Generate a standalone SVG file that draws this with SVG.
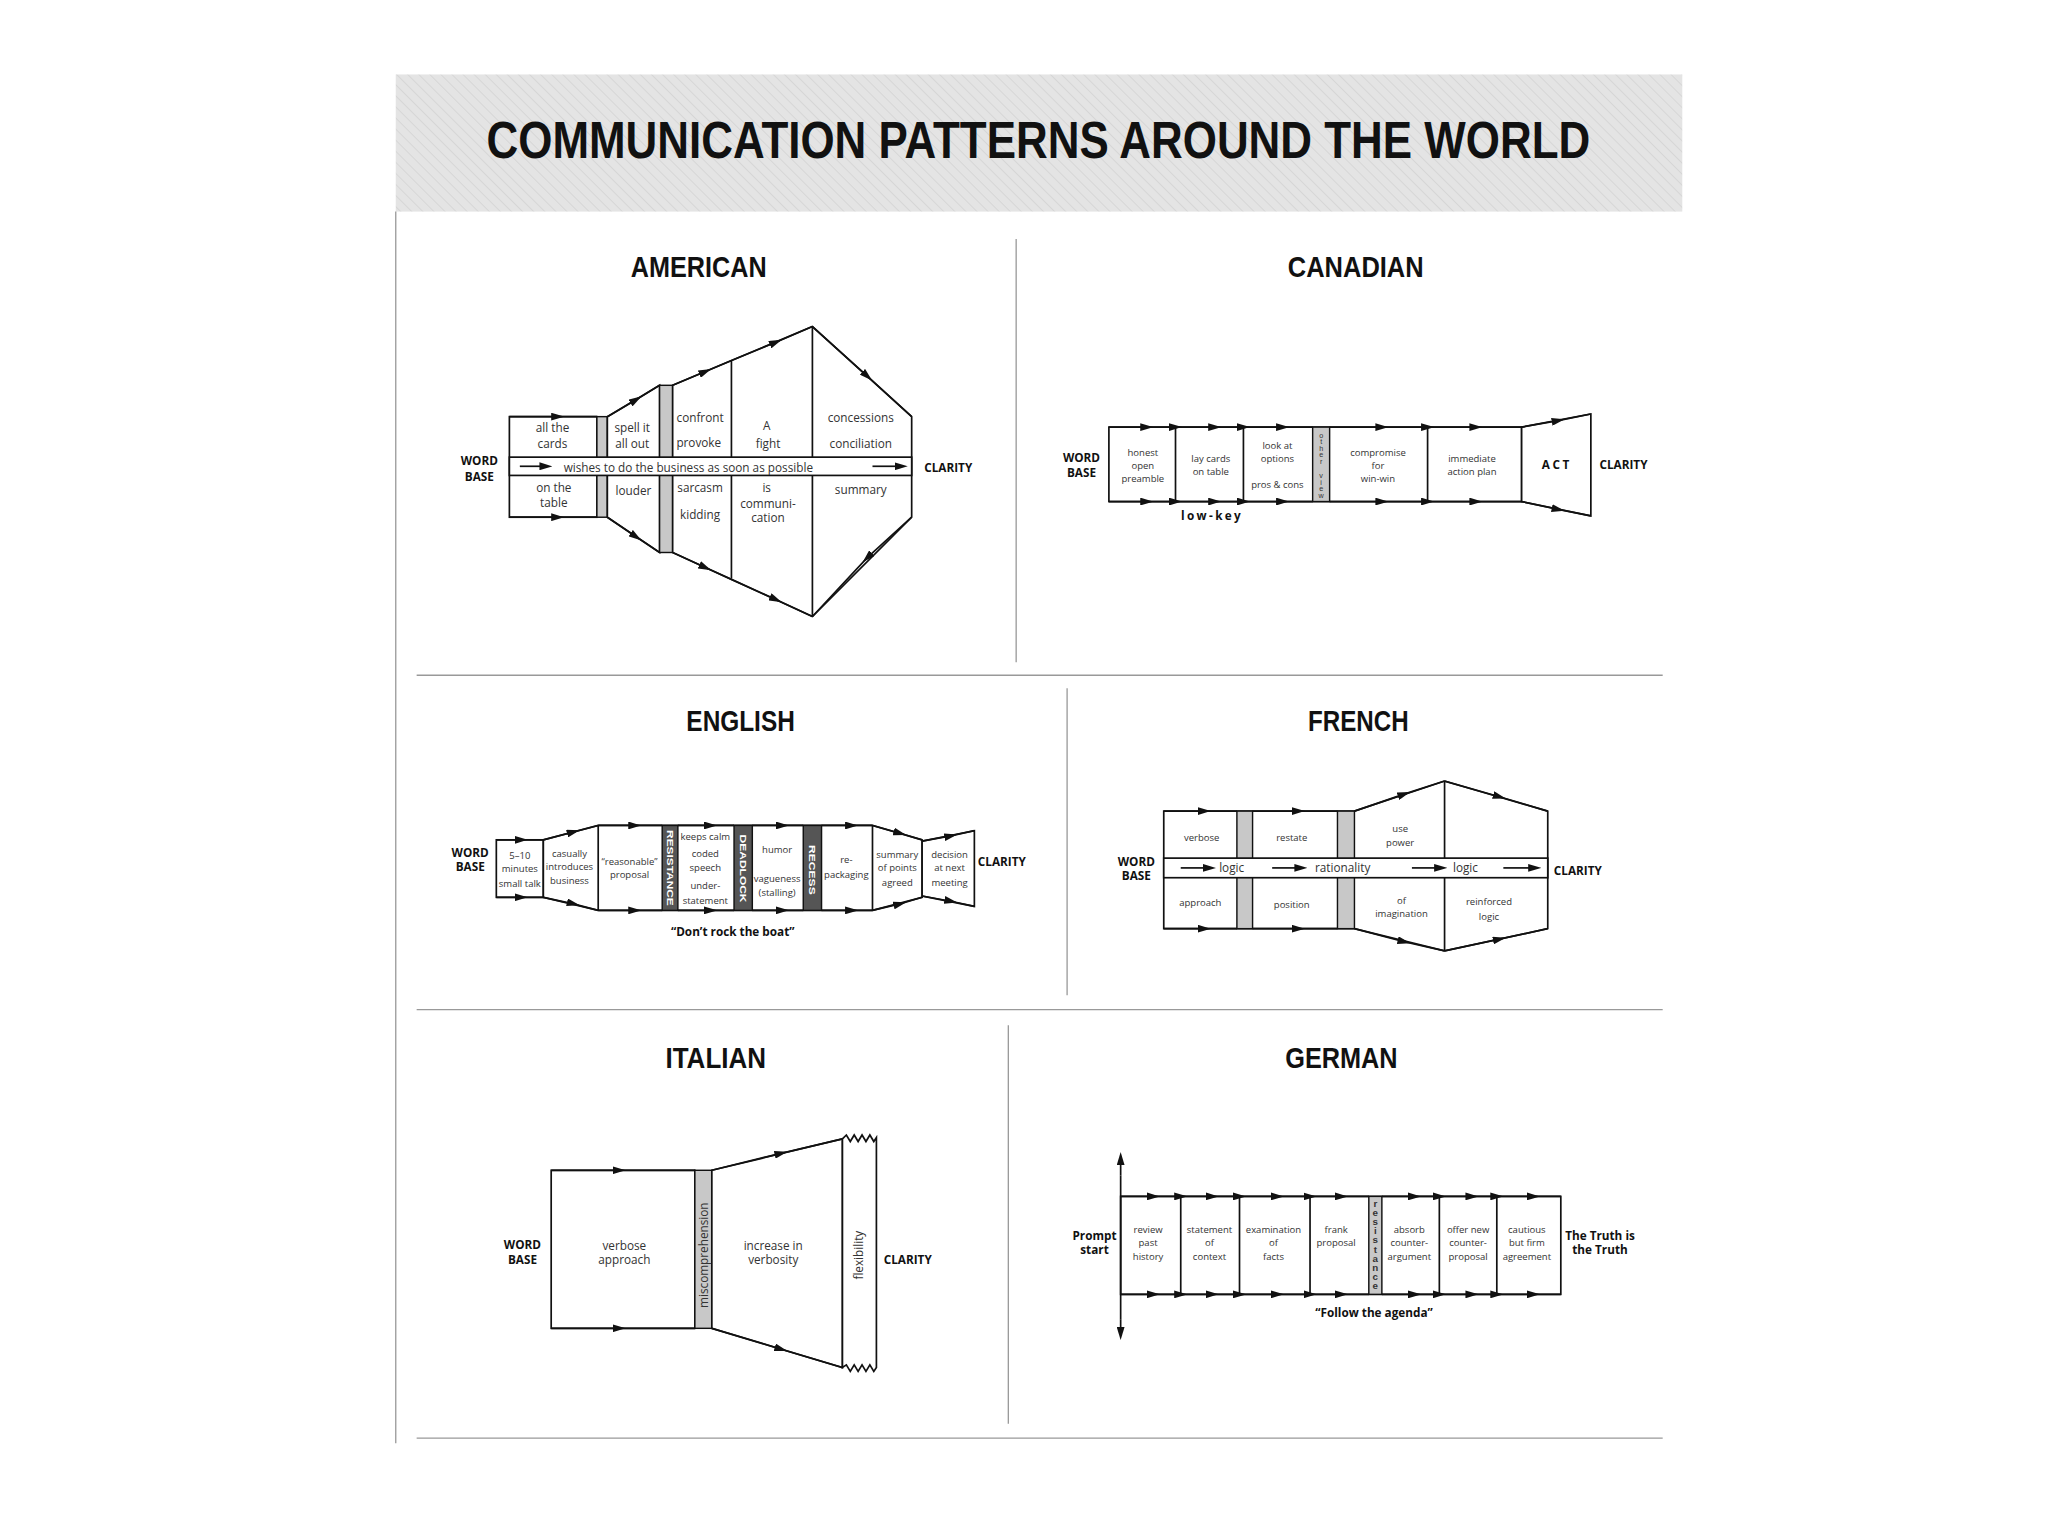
<svg xmlns="http://www.w3.org/2000/svg" width="2048" height="1536" viewBox="0 0 2048 1536">
<defs>
<marker id="ah" markerUnits="userSpaceOnUse" markerWidth="10" markerHeight="6" refX="5" refY="3" orient="auto"><path d="M0,0 L10,3 L0,6 z" fill="#111"/></marker>
<pattern id="hatch" width="6" height="6" patternUnits="userSpaceOnUse" patternTransform="rotate(-45)"><rect width="6" height="6" fill="#e4e4e4"/><line x1="0" y1="0" x2="0" y2="6" stroke="#d6d6d6" stroke-width="1.5"/></pattern>
<style>
.ln{stroke:#111;stroke-width:1.3;fill:none}
.bx{stroke:#111;stroke-width:1.3;fill:#fff}
.ar{stroke:#111;stroke-width:1.3;fill:none;marker-mid:url(#ah)}
.gr{fill:#c8c8c8;stroke:#111;stroke-width:1.1}
.dk{fill:#555;stroke:#111;stroke-width:1.1}
.div{stroke:#999;stroke-width:1}
.t{font-family:"Open Sans","Liberation Sans",sans-serif;font-size:9px;fill:#333;text-anchor:middle}
.s{font-family:"Open Sans","Liberation Sans",sans-serif;font-size:7.3px;fill:#333;text-anchor:middle}
.b{font-family:"Open Sans","Liberation Sans",sans-serif;font-size:9px;font-weight:bold;fill:#111;text-anchor:middle}
.h{font-family:"Liberation Sans Narrow","Liberation Sans",sans-serif;font-size:23px;font-weight:bold;fill:#111;text-anchor:middle}
.vt{font-family:"Liberation Sans",sans-serif;font-size:6.5px;font-weight:bold;fill:#fff;text-anchor:middle}
.st{font-family:"Liberation Sans",sans-serif;fill:#333;text-anchor:middle}
</style>
</defs>
<rect width="2048" height="1536" fill="#fff"/>
<g transform="scale(1.30612)">
<g id="title">
<rect x="303" y="57" width="985" height="105" fill="url(#hatch)"/>
<text x="795" y="121" font-family="Liberation Sans Narrow,Liberation Sans,sans-serif" font-size="40" font-weight="bold" fill="#111" text-anchor="middle" textLength="845" lengthAdjust="spacingAndGlyphs">COMMUNICATION PATTERNS AROUND THE WORLD</text>
</g>
<g id="dividers">
<line class="div" x1="303" y1="162" x2="303" y2="1105"/>
<line class="div" x1="778" y1="183" x2="778" y2="507"/>
<line class="div" x1="319" y1="517" x2="1273" y2="517"/>
<line class="div" x1="817" y1="527" x2="817" y2="762"/>
<line class="div" x1="319" y1="773" x2="1273" y2="773"/>
<line class="div" x1="772" y1="785" x2="772" y2="1090"/>
<line class="div" x1="319" y1="1101" x2="1273" y2="1101"/>
</g>

<!-- AMERICAN -->
<g id="american">
<text class="h" x="535" y="212" textLength="104" lengthAdjust="spacingAndGlyphs">AMERICAN</text>
<rect class="bx" x="390" y="319" width="67" height="77"/>
<rect class="gr" x="457" y="319" width="8" height="77"/>
<path class="bx" d="M465,319 L505,295 L505,423 L465,396 z"/>
<rect class="gr" x="505" y="295" width="10" height="128"/>
<path class="bx" d="M515,295 L622,250 L698,319 L698,396 L622,472 L515,423 z"/>
<line class="ln" x1="560" y1="276" x2="560" y2="443"/>
<line class="ln" x1="622" y1="250" x2="622" y2="472"/>
<rect x="390" y="350" width="308" height="14" fill="#fff" stroke="#111" stroke-width="1.3"/>
<line class="ln" x1="398" y1="357" x2="418" y2="357" marker-end="url(#ah)"/>
<line class="ln" x1="668" y1="357" x2="690" y2="357" marker-end="url(#ah)"/>
<text class="t" x="527" y="361" font-size="9.5">wishes to do the business as soon as possible</text>
<text class="b" x="367" y="356">WORD</text><text class="b" x="367" y="368">BASE</text>
<text class="b" x="726" y="361">CLARITY</text>
<text class="t" x="423" y="331">all the</text><text class="t" x="423" y="343">cards</text>
<text class="t" x="424" y="377">on the</text><text class="t" x="424" y="388">table</text>
<text class="t" x="484" y="331">spell it</text><text class="t" x="484" y="343">all out</text>
<text class="t" x="485" y="379">louder</text>
<text class="t" x="536" y="323">confront</text><text class="t" x="535" y="342">provoke</text>
<text class="t" x="536" y="377">sarcasm</text><text class="t" x="536" y="397">kidding</text>
<text class="t" x="587" y="329">A</text><text class="t" x="588" y="343">fight</text>
<text class="t" x="587" y="377">is</text><text class="t" x="588" y="389">communi-</text><text class="t" x="588" y="400">cation</text>
<text class="t" x="659" y="323">concessions</text><text class="t" x="659" y="343">conciliation</text>
<text class="t" x="659" y="378">summary</text>
</g>

<!-- CANADIAN -->
<g id="canadian">
<text class="h" x="1038" y="212" textLength="104" lengthAdjust="spacingAndGlyphs">CANADIAN</text>
<rect class="bx" x="849" y="327" width="316" height="57"/>
<line class="ln" x1="900" y1="327" x2="900" y2="384"/>
<line class="ln" x1="952" y1="327" x2="952" y2="384"/>
<rect class="gr" x="1005" y="327" width="13" height="57"/>
<line class="ln" x1="1093" y1="327" x2="1093" y2="384"/>
<path class="bx" d="M1165,327 L1218,317 L1218,395 L1165,384 z"/>
<text class="b" x="828" y="354">WORD</text><text class="b" x="828" y="365">BASE</text>
<text class="b" x="1243" y="359">CLARITY</text>
<text class="b" x="1192" y="359" letter-spacing="2">ACT</text>
<text class="s" x="875" y="349">honest</text><text class="s" x="875" y="359">open</text><text class="s" x="875" y="369">preamble</text>
<text class="s" x="927" y="354">lay cards</text><text class="s" x="927" y="364">on table</text>
<text class="s" x="978" y="344">look at</text><text class="s" x="978" y="354">options</text><text class="s" x="978" y="374">pros &amp; cons</text>
<text class="st" font-size="5.5"><tspan x="1011.5" y="335">o</tspan><tspan x="1011.5" y="340">t</tspan><tspan x="1011.5" y="345">h</tspan><tspan x="1011.5" y="350">e</tspan><tspan x="1011.5" y="355">r</tspan><tspan x="1011.5" y="366">v</tspan><tspan x="1011.5" y="371">i</tspan><tspan x="1011.5" y="376">e</tspan><tspan x="1011.5" y="381">w</tspan></text>
<text class="s" x="1055" y="349">compromise</text><text class="s" x="1055" y="359">for</text><text class="s" x="1055" y="369">win-win</text>
<text class="s" x="1127" y="354">immediate</text><text class="s" x="1127" y="364">action plan</text>
<text class="b" x="928" y="398" font-size="8" letter-spacing="1.8">low-key</text>
</g>

<!-- ENGLISH -->
<g id="english">
<text class="h" x="567" y="560" textLength="83" lengthAdjust="spacingAndGlyphs">ENGLISH</text>
<rect class="bx" x="380" y="643" width="36" height="44"/>
<path class="bx" d="M416,643 L458,632 L668,632 L706,643 L706,687 L668,697 L458,697 L416,687 z"/>
<line class="ln" x1="458" y1="632" x2="458" y2="697"/>
<line class="ln" x1="668" y1="632" x2="668" y2="697"/>
<path class="bx" d="M706,644 L746,636 L746,694 L706,686 z"/>
<rect class="dk" x="507" y="632" width="12" height="65"/>
<rect class="dk" x="562" y="632" width="14" height="65"/>
<rect class="dk" x="615" y="632" width="14" height="65"/>
<text class="vt" transform="translate(510.5,664.5) rotate(90)" textLength="58" lengthAdjust="spacingAndGlyphs">RESISTANCE</text>
<text class="vt" transform="translate(566.5,665) rotate(90)" textLength="52" lengthAdjust="spacingAndGlyphs">DEADLOCK</text>
<text class="vt" transform="translate(619.5,666) rotate(90)" textLength="38" lengthAdjust="spacingAndGlyphs">RECESS</text>
<text class="b" x="360" y="656">WORD</text><text class="b" x="360" y="667">BASE</text>
<text class="b" x="767" y="663">CLARITY</text>
<text class="s" x="398" y="658">5–10</text><text class="s" x="398" y="668">minutes</text><text class="s" x="398" y="679">small talk</text>
<text class="s" x="436" y="656">casually</text><text class="s" x="436" y="666">introduces</text><text class="s" x="436" y="677">business</text>
<text class="s" x="482" y="662">“reasonable”</text><text class="s" x="482" y="672">proposal</text>
<text class="s" x="540" y="643">keeps calm</text><text class="s" x="540" y="656">coded</text><text class="s" x="540" y="667">speech</text><text class="s" x="540" y="681">under-</text><text class="s" x="540" y="692">statement</text>
<text class="s" x="595" y="653">humor</text><text class="s" x="595" y="675">vagueness</text><text class="s" x="595" y="686">(stalling)</text>
<text class="s" x="648" y="661">re-</text><text class="s" x="648" y="672">packaging</text>
<text class="s" x="687" y="657">summary</text><text class="s" x="687" y="667">of points</text><text class="s" x="687" y="678">agreed</text>
<text class="s" x="727" y="657">decision</text><text class="s" x="727" y="667">at next</text><text class="s" x="727" y="678">meeting</text>
<text class="b" x="561" y="717">“Don’t rock the boat”</text>
</g>

<!-- FRENCH -->
<g id="french">
<text class="h" x="1040" y="560" textLength="77" lengthAdjust="spacingAndGlyphs">FRENCH</text>
<path class="bx" d="M891,621 L1037,621 L1106,598 L1185,621 L1185,711 L1106,728 L1037,711 L891,711 z"/>
<line class="ln" x1="1106" y1="598" x2="1106" y2="728"/>
<rect class="gr" x="947" y="621" width="12" height="90"/>
<rect class="gr" x="1024" y="621" width="13" height="90"/>
<rect x="891" y="657" width="294" height="15" fill="#fff" stroke="#111" stroke-width="1.3"/>
<line class="ln" x1="904" y1="664.5" x2="926" y2="664.5" marker-end="url(#ah)"/>
<line class="ln" x1="974" y1="664.5" x2="996" y2="664.5" marker-end="url(#ah)"/>
<line class="ln" x1="1081" y1="664.5" x2="1103" y2="664.5" marker-end="url(#ah)"/>
<line class="ln" x1="1151" y1="664.5" x2="1175" y2="664.5" marker-end="url(#ah)"/>
<text class="t" x="943" y="668">logic</text><text class="t" x="1028" y="668">rationality</text><text class="t" x="1122" y="668">logic</text>
<text class="b" x="870" y="663">WORD</text><text class="b" x="870" y="674">BASE</text>
<text class="b" x="1208" y="670">CLARITY</text>
<text class="s" x="920" y="644" font-size="8">verbose</text><text class="s" x="919" y="694" font-size="8">approach</text>
<text class="s" x="989" y="644" font-size="8">restate</text><text class="s" x="989" y="695" font-size="8">position</text>
<text class="s" x="1072" y="637" font-size="8">use</text><text class="s" x="1072" y="648" font-size="8">power</text>
<text class="s" x="1073" y="692" font-size="8">of</text><text class="s" x="1073" y="702" font-size="8">imagination</text>
<text class="s" x="1140" y="693" font-size="8">reinforced</text><text class="s" x="1140" y="704" font-size="8">logic</text>
</g>

<!-- ITALIAN -->
<g id="italian">
<text class="h" x="548" y="818" textLength="77" lengthAdjust="spacingAndGlyphs">ITALIAN</text>
<rect class="bx" x="422" y="896" width="110" height="121"/>
<rect class="gr" x="532" y="896" width="13" height="121"/>
<path class="bx" d="M545,896 L645,872 L645,1047 L545,1017 z"/>
<path class="bx" d="M645,872 L648,869 L651,874 L654,869 L657,874 L660,869 L663,874 L666,869 L669,874 L671,871 L671,1047 L669,1050 L666,1045 L663,1050 L660,1045 L657,1050 L654,1045 L651,1050 L648,1045 L645,1047 z"/>
<text class="t" transform="translate(542,961) rotate(-90)">miscomprehension</text>
<text class="t" transform="translate(661,961) rotate(-90)">flexibility</text>
<text class="b" x="400" y="956">WORD</text><text class="b" x="400" y="968">BASE</text>
<text class="b" x="695" y="968">CLARITY</text>
<text class="t" x="478" y="957">verbose</text><text class="t" x="478" y="968">approach</text>
<text class="t" x="592" y="957">increase in</text><text class="t" x="592" y="968">verbosity</text>
</g>

<!-- GERMAN -->
<g id="german">
<text class="h" x="1027" y="818" textLength="86" lengthAdjust="spacingAndGlyphs">GERMAN</text>
<rect class="bx" x="858" y="916" width="337" height="75"/>
<line class="ln" x1="904" y1="916" x2="904" y2="991"/>
<line class="ln" x1="949" y1="916" x2="949" y2="991"/>
<line class="ln" x1="1003" y1="916" x2="1003" y2="991"/>
<rect class="gr" x="1048" y="916" width="10" height="75"/>
<line class="ln" x1="1102" y1="916" x2="1102" y2="991"/>
<line class="ln" x1="1146" y1="916" x2="1146" y2="991"/>
<line class="ln" x1="858" y1="900" x2="858" y2="887" marker-end="url(#ah)"/>
<line class="ln" x1="858" y1="900" x2="858" y2="1010"/>
<line class="ln" x1="858" y1="1010" x2="858" y2="1021" marker-end="url(#ah)"/>
<text class="st" font-size="7.5" font-weight="bold"><tspan x="1053" y="924">r</tspan><tspan x="1053" y="931">e</tspan><tspan x="1053" y="938">s</tspan><tspan x="1053" y="945">i</tspan><tspan x="1053" y="952">s</tspan><tspan x="1053" y="959">t</tspan><tspan x="1053" y="966">a</tspan><tspan x="1053" y="973">n</tspan><tspan x="1053" y="980">c</tspan><tspan x="1053" y="987">e</tspan></text>
<text class="b" x="838" y="949">Prompt</text><text class="b" x="838" y="960">start</text>
<text class="b" x="1225" y="949">The Truth is</text><text class="b" x="1225" y="960">the Truth</text>
<text class="s" x="879" y="944">review</text><text class="s" x="879" y="954">past</text><text class="s" x="879" y="965">history</text>
<text class="s" x="926" y="944">statement</text><text class="s" x="926" y="954">of</text><text class="s" x="926" y="965">context</text>
<text class="s" x="975" y="944">examination</text><text class="s" x="975" y="954">of</text><text class="s" x="975" y="965">facts</text>
<text class="s" x="1023" y="944">frank</text><text class="s" x="1023" y="954">proposal</text>
<text class="s" x="1079" y="944">absorb</text><text class="s" x="1079" y="954">counter-</text><text class="s" x="1079" y="965">argument</text>
<text class="s" x="1124" y="944">offer new</text><text class="s" x="1124" y="954">counter-</text><text class="s" x="1124" y="965">proposal</text>
<text class="s" x="1169" y="944">cautious</text><text class="s" x="1169" y="954">but firm</text><text class="s" x="1169" y="965">agreement</text>
<text class="b" x="1052" y="1008">“Follow the agenda”</text>
</g>

<g id="connectors">
<path class="ar" d="M390,319 L427,319 L457,319"/>
<path class="ar" d="M390,396 L427,396 L457,396"/>
<path class="ar" d="M465,319 L487,306 L505,295"/>
<path class="ar" d="M465,396 L487,411 L505,423"/>
<path class="ar" d="M515,295 L540,284.5 L560,276"/>
<path class="ar" d="M515,423 L540,434.5 L560,443.6"/>
<path class="ar" d="M560,276 L594,262 L622,250"/>
<path class="ar" d="M560,443.6 L594,459 L622,472"/>
<path class="ar" d="M622,250 L664,288 L698,319"/>
<path class="ar" d="M698,396 L664,427 L622,472"/>
<path class="ar" d="M849,327 L878,327 L900,327 L930,327 L952,327 L982,327 L1005,327"/>
<path class="ar" d="M849,384 L878,384 L900,384 L930,384 L952,384 L982,384 L1005,384"/>
<path class="ar" d="M1018,327 L1058,327 L1093,327 L1130,327 L1165,327"/>
<path class="ar" d="M1018,384 L1058,384 L1093,384 L1130,384 L1165,384"/>
<path class="ar" d="M1165,327 L1193,322 L1218,317"/>
<path class="ar" d="M1165,384 L1193,390 L1218,395"/>
<path class="ar" d="M380,643 L399,643 L416,643"/>
<path class="ar" d="M380,687 L399,687 L416,687"/>
<path class="ar" d="M416,643 L439,637 L458,632"/>
<path class="ar" d="M416,687 L439,692 L458,697"/>
<path class="ar" d="M458,632 L486,632 L507,632"/>
<path class="ar" d="M458,697 L486,697 L507,697"/>
<path class="ar" d="M519,632 L544,632 L562,632"/>
<path class="ar" d="M519,697 L544,697 L562,697"/>
<path class="ar" d="M576,632 L599,632 L615,632"/>
<path class="ar" d="M576,697 L599,697 L615,697"/>
<path class="ar" d="M629,632 L652,632 L668,632"/>
<path class="ar" d="M629,697 L652,697 L668,697"/>
<path class="ar" d="M668,632 L689,638 L706,643"/>
<path class="ar" d="M668,697 L689,692 L706,687"/>
<path class="ar" d="M706,644 L728,640 L746,636"/>
<path class="ar" d="M706,686 L728,690 L746,694"/>
<path class="ar" d="M891,621 L922,621 L947,621"/>
<path class="ar" d="M891,711 L922,711 L947,711"/>
<path class="ar" d="M959,621 L994,621 L1024,621"/>
<path class="ar" d="M959,711 L994,711 L1024,711"/>
<path class="ar" d="M1037,621 L1075,608 L1106,598"/>
<path class="ar" d="M1037,711 L1075,721 L1106,728"/>
<path class="ar" d="M1106,598 L1148,610 L1185,621"/>
<path class="ar" d="M1106,728 L1148,719 L1185,711"/>
<path class="ar" d="M422,896 L474,896 L532,896"/>
<path class="ar" d="M422,1017 L474,1017 L532,1017"/>
<path class="ar" d="M545,896 L598,883 L645,872"/>
<path class="ar" d="M545,1017 L598,1033 L645,1047"/>
<path class="ar" d="M858,916 L883,916 L904,916 L928,916 L949,916 L978,916 L1003,916 L1027,916 L1048,916"/>
<path class="ar" d="M858,991 L883,991 L904,991 L928,991 L949,991 L978,991 L1003,991 L1027,991 L1048,991"/>
<path class="ar" d="M1058,916 L1083,916 L1102,916 L1127,916 L1146,916 L1174,916 L1195,916"/>
<path class="ar" d="M1058,991 L1083,991 L1102,991 L1127,991 L1146,991 L1174,991 L1195,991"/>
</g>
</g>
</svg>
